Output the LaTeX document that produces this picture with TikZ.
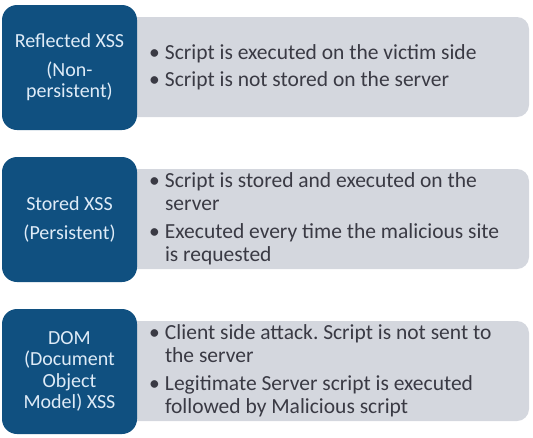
\documentclass[tikz,border=0pt]{standalone}
\usepackage{fontspec}
\setmainfont{Carlito}
\frenchspacing
\definecolor{xssblue}{RGB}{16, 80, 128}
\definecolor{xssgrey}{RGB}{212, 215, 222}
\definecolor{xsstext}{RGB}{58, 58, 68}
\definecolor{xsslight}{RGB}{222, 235, 247}
\newcommand{\bitem}[1]{\makebox[16pt][l]{\textbullet}#1}
\newcommand{\bcont}[1]{\hspace*{16pt}#1}
\tikzset{
  typebox/.style={fill=xssblue, rounded corners=15pt, minimum width=135pt,
    minimum height=125pt, align=center, text=xsslight,
    font=\fontsize{20}{21.5}\selectfont},
  infobox/.style={fill=xssgrey, rounded corners=12pt, minimum width=404pt,
    minimum height=100pt},
  infotext/.style={anchor=west, inner sep=0pt, align=left, text=xsstext,
    font=\fontsize{21.5}{23.5}\selectfont}
}

\begin{document}
\begin{tikzpicture}[x=1pt, y=-1pt]
        \useasboundingbox (0,0) rectangle (533,437);

        % Grey description boxes
        \node[infobox] (reflinfo) at (327,67) {};
        \node[infobox] (storinfo) at (327,219) {};
        \node[infobox] (dominfo) at (327,371) {};

        % Blue type boxes
        \node[typebox] (refl) at (69.5,67.5) {Reflected XSS\\[7pt](Non-\\persistent)};
        \node[typebox] (stor) at (69.5,219.5) {Stored XSS\\[8pt](Persistent)};
        \node[typebox] (dom) at (69.5,371.5) {DOM\\(Document\\Object\\Model) XSS};

        % Bullet texts
        \node[infotext] (refltext) at ([xshift=24pt]reflinfo.west)
          {\bitem{Script is executed on the victim side}\\[3.5pt]
           \bitem{Script is not stored on the server}};
        \node[infotext] (stortext) at ([xshift=24pt]storinfo.west)
          {\bitem{Script is stored and executed on the}\\
           \bcont{server}\\[4pt]
           \bitem{Executed every time the malicious site}\\
           \bcont{is requested}};
        \node[infotext] (domtext) at ([xshift=24pt]dominfo.west)
          {\bitem{Client side attack. Script is not sent to}\\
           \bcont{the server}\\[4pt]
           \bitem{Legitimate Server script is executed}\\
           \bcont{followed by Malicious script}};
    \end{tikzpicture}
\end{document}
